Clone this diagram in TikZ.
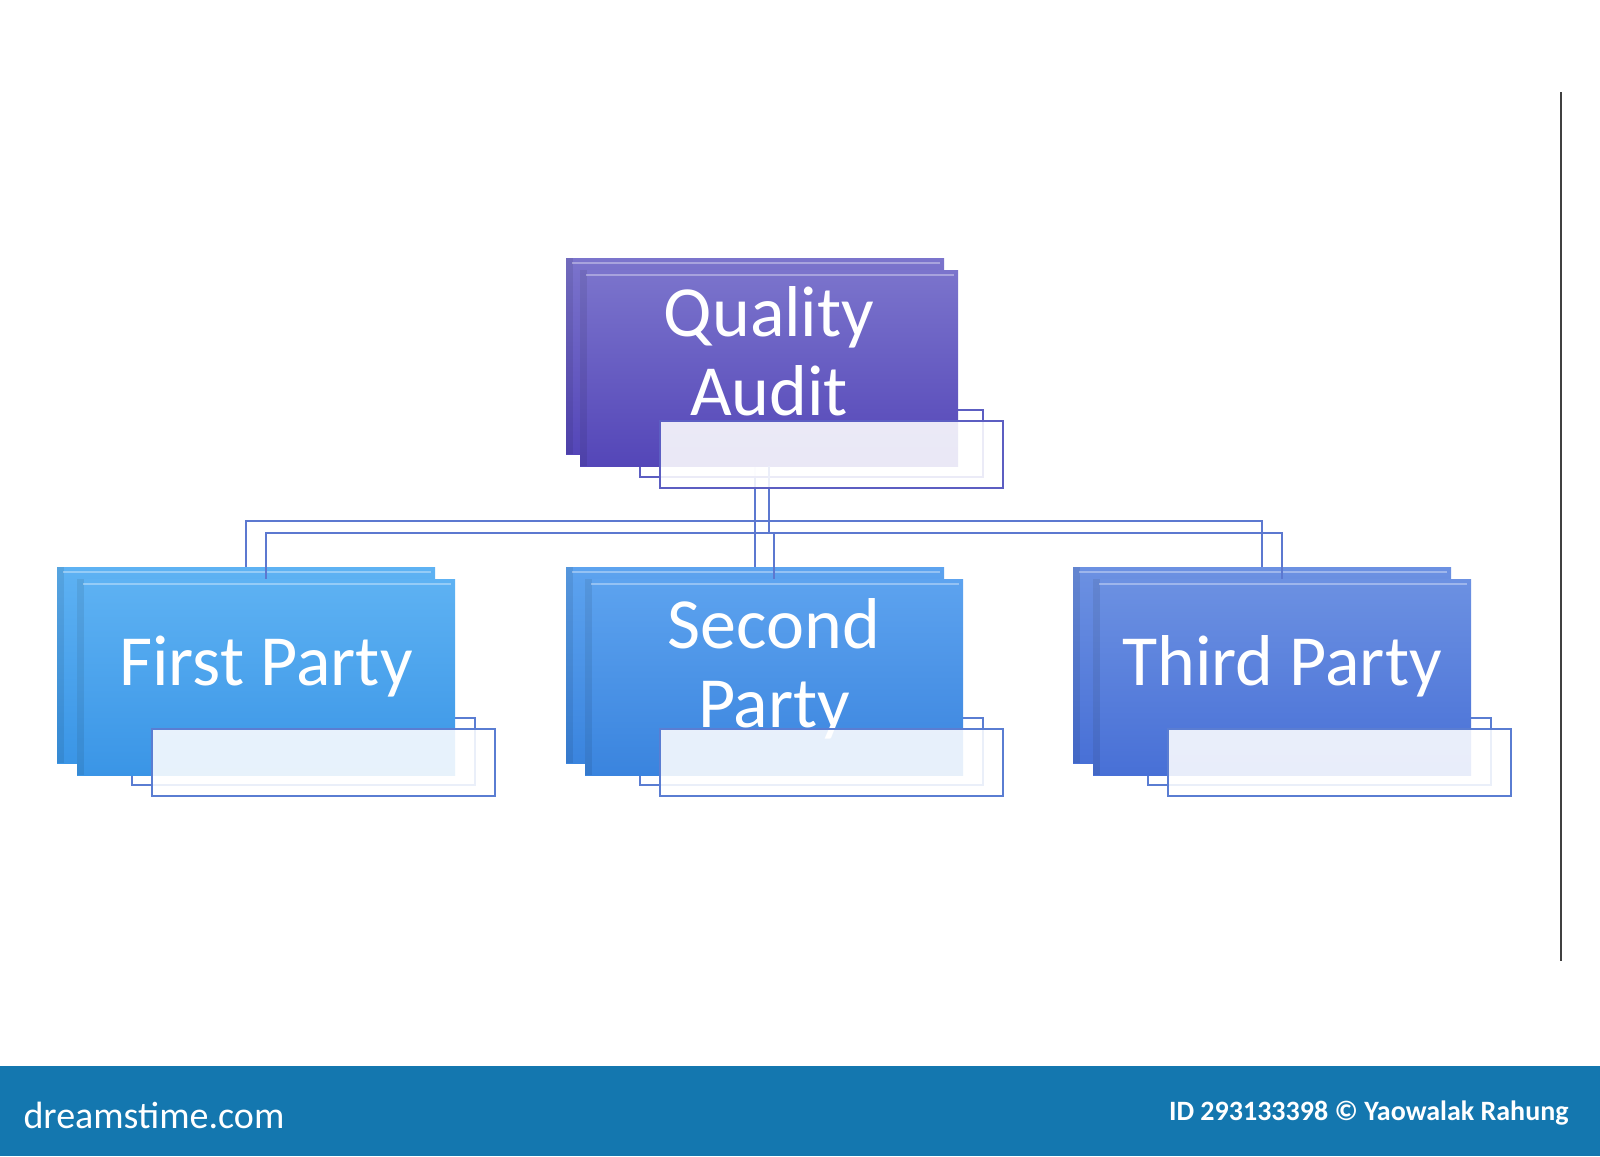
\documentclass[tikz,border=0pt]{standalone}
\usepackage{fontspec}
\setmainfont{Carlito}

\definecolor{qtop}{HTML}{7B74CC}
\definecolor{qbot}{HTML}{5446B8}
\definecolor{ftop}{HTML}{5EB2F3}
\definecolor{fbot}{HTML}{3A95E6}
\definecolor{stop}{HTML}{5DA3EF}
\definecolor{sbot}{HTML}{3A84DE}
\definecolor{ttop}{HTML}{6C91E2}
\definecolor{tbot}{HTML}{4870D6}
\definecolor{linkblue}{HTML}{5C78D0}
\definecolor{tagline}{HTML}{5A7DD2}
\definecolor{tagpurple}{HTML}{5C5EC2}
\definecolor{barblue}{HTML}{1477AF}

\begin{document}
\begin{tikzpicture}[x=1pt, y=-1pt,
    box/.style={rectangle, inner sep=0pt, outer sep=0pt, anchor=north west,
        minimum width=378pt, minimum height=196pt,
        path picture={
            \fill[black, opacity=.08] (path picture bounding box.north west) rectangle ([xshift=7pt]path picture bounding box.south west);
            \draw[white, opacity=.35, line width=2.5pt] ([xshift=6pt, yshift=-5pt]path picture bounding box.north west) -- ([xshift=-4pt, yshift=-5pt]path picture bounding box.north east);
        }},
    tag/.style={rectangle, draw=tagline, line width=1.1pt, fill=white, fill opacity=.88,
        inner sep=0pt, outer sep=0pt, anchor=north west, minimum width=343pt, minimum height=67pt},
    link/.style={draw=linkblue, line width=1.3pt},
    lbl/.style={text=white, anchor=base, align=center, font=\fontsize{72}{79}\selectfont}]

    \useasboundingbox (0,0) rectangle (1600,1156);

    % back copy
    \coordinate (busB) at (0,521);
    \node [box, top color=qtop, bottom color=qbot] (qaB) at (566,258) {};
    \node [box, top color=ftop, bottom color=fbot] (firstB) at (57,567) {};
    \node [box, top color=stop, bottom color=sbot] (secondB) at (566,567) {};
    \node [box, top color=ttop, bottom color=tbot] (thirdB) at (1073,567) {};

    \draw [link] (qaB.south) -- (qaB.south |- busB) -| (firstB.north);
    \draw [link] (qaB.south) -- (secondB.north);
    \draw [link] (qaB.south |- busB) -| (thirdB.north);

    \node [tag, draw=tagpurple] (qaBL) at (640,410) {};
    \node [tag] (firstBL) at (132,718) {};
    \node [tag] (secondBL) at (640,718) {};
    \node [tag] (thirdBL) at (1148,718) {};

    % front copy
    \coordinate (bus) at (0,533);
    \node [box, top color=qtop, bottom color=qbot] (qa) at (580,270) {};
    \node [box, top color=ftop, bottom color=fbot] (first) at (77,579) {};
    \node [box, top color=stop, bottom color=sbot] (second) at (585,579) {};
    \node [box, top color=ttop, bottom color=tbot] (third) at (1093,579) {};

    \draw [link] (qa.south) -- (qa.south |- bus) -| (first.north);
    \draw [link] (qa.south |- bus) -| (second.north);
    \draw [link] (qa.south |- bus) -| (third.north);

    \node [lbl] (qatext) at (769,415) {Quality\\Audit};
    \node [lbl] (firsttext) at (266,685) {First Party};
    \node [lbl] (secondtext) at (774,727) {Second\\Party};
    \node [lbl] (thirdtext) at (1282,685) {Third Party};

    \node [tag, draw=tagpurple] (qaL) at (660,421) {};
    \node [tag] (firstL) at (152,729) {};
    \node [tag] (secondL) at (660,729) {};
    \node [tag] (thirdL) at (1168,729) {};

    % right rule and footer bar
    \coordinate (ruletop) at (1561,92);
    \coordinate (rulebot) at (1561,961);
    \draw [line width=1.8pt, black!75] (ruletop) -- (rulebot);

    \node [rectangle, fill=barblue, inner sep=0pt, anchor=north west,
        minimum width=1600pt, minimum height=90pt] (bar) at (0,1066) {};
    \node [anchor=base west, text=white, font=\fontsize{38}{40}\selectfont] (site) at (20,1128) {dreamstime.com};
    \node [anchor=base east, text=white, font=\bfseries\fontsize{28}{30}\selectfont] (credit) at (1572,1120) {ID 293133398 © Yaowalak Rahung};
\end{tikzpicture}
\end{document}
